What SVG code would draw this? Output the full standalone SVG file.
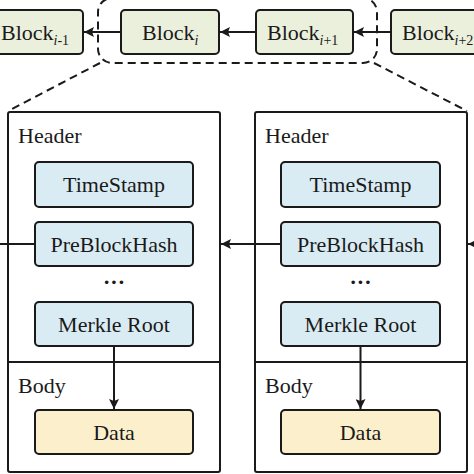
<svg xmlns="http://www.w3.org/2000/svg" width="474" height="474" viewBox="0 0 474 474">
<defs>
<marker id="ah" viewBox="0 0 10 10" refX="10" refY="5" markerWidth="5" markerHeight="5" orient="auto-start-reverse" markerUnits="strokeWidth">
<path d="M0,0 L10,5 L0,10 L2,5 Z" fill="#1a1a1a"/>
</marker>
</defs>
<rect width="474" height="474" fill="#ffffff"/>

<g id="zoom-outline" stroke="#1a1a1a" stroke-width="2" fill="none" stroke-dasharray="8 5">
<rect x="98" y="-2" width="279" height="65" rx="14"/>
<line x1="100" y1="63" x2="8" y2="111"/>
<line x1="374" y1="63" x2="467" y2="111"/>
</g>

<g id="block-im1">
<rect x="-6" y="10" width="89" height="44" rx="4" fill="#ebf0dc" stroke="#1a1a1a" stroke-width="2"/>
<text x="1" y="40" font-family="Times New Roman, Liberation Serif, serif" font-size="22" fill="#1a1a1a">Block<tspan font-size="14" font-style="italic" dy="5">i</tspan><tspan font-size="14">-1</tspan></text>
</g>
<g id="block-i">
<rect x="121" y="10" width="98" height="44" rx="4" fill="#ebf0dc" stroke="#1a1a1a" stroke-width="2"/>
<text x="142" y="40" font-family="Times New Roman, Liberation Serif, serif" font-size="22" fill="#1a1a1a">Block<tspan font-size="14" font-style="italic" dy="5">i</tspan></text>
</g>
<g id="block-ip1">
<rect x="256" y="10" width="97" height="44" rx="4" fill="#ebf0dc" stroke="#1a1a1a" stroke-width="2"/>
<text x="267" y="40" font-family="Times New Roman, Liberation Serif, serif" font-size="22" fill="#1a1a1a">Block<tspan font-size="14" font-style="italic" dy="5">i</tspan><tspan font-size="14">+1</tspan></text>
</g>
<g id="block-ip2">
<rect x="391" y="10" width="100" height="44" rx="4" fill="#ebf0dc" stroke="#1a1a1a" stroke-width="2"/>
<text x="402" y="40" font-family="Times New Roman, Liberation Serif, serif" font-size="22" fill="#1a1a1a">Block<tspan font-size="14" font-style="italic" dy="5">i</tspan><tspan font-size="14">+2</tspan></text>
</g>

<g id="left-block">
<rect x="8" y="112" width="212" height="360" rx="2" fill="#ffffff" stroke="#1a1a1a" stroke-width="2"/>
<line x1="8" y1="362" x2="220" y2="362" stroke="#1a1a1a" stroke-width="2"/>
<text x="18" y="143" font-family="Times New Roman, Liberation Serif, serif" font-size="22" fill="#1a1a1a">Header</text>
<text x="18" y="393" font-family="Times New Roman, Liberation Serif, serif" font-size="22" fill="#1a1a1a">Body</text>
<g id="l-timestamp"><rect x="35" y="162" width="158" height="45" rx="4" fill="#daecf3" stroke="#1a1a1a" stroke-width="2"/><text x="114" y="192" text-anchor="middle" font-family="Times New Roman, Liberation Serif, serif" font-size="22" fill="#1a1a1a">TimeStamp</text></g>
<g id="l-prehash"><rect x="35" y="222" width="158" height="44" rx="4" fill="#daecf3" stroke="#1a1a1a" stroke-width="2"/><text x="114" y="252" text-anchor="middle" font-family="Times New Roman, Liberation Serif, serif" font-size="22" fill="#1a1a1a">PreBlockHash</text></g>
<text x="114" y="289" text-anchor="middle" font-family="Times New Roman, Liberation Serif, serif" font-size="22" font-weight="bold" fill="#1a1a1a">···</text>
<g id="l-merkle"><rect x="35" y="302" width="158" height="44" rx="4" fill="#daecf3" stroke="#1a1a1a" stroke-width="2"/><text x="114" y="332" text-anchor="middle" font-family="Times New Roman, Liberation Serif, serif" font-size="22" fill="#1a1a1a">Merkle Root</text></g>
<g id="l-data"><rect x="35" y="410" width="158" height="44" rx="4" fill="#fcf0cc" stroke="#1a1a1a" stroke-width="2"/><text x="114" y="440" text-anchor="middle" font-family="Times New Roman, Liberation Serif, serif" font-size="22" fill="#1a1a1a">Data</text></g>
</g>

<g id="right-block">
<rect x="255" y="112" width="212" height="360" rx="2" fill="#ffffff" stroke="#1a1a1a" stroke-width="2"/>
<line x1="255" y1="362" x2="467" y2="362" stroke="#1a1a1a" stroke-width="2"/>
<text x="265" y="143" font-family="Times New Roman, Liberation Serif, serif" font-size="22" fill="#1a1a1a">Header</text>
<text x="265" y="393" font-family="Times New Roman, Liberation Serif, serif" font-size="22" fill="#1a1a1a">Body</text>
<g id="r-timestamp"><rect x="281" y="162" width="159" height="45" rx="4" fill="#daecf3" stroke="#1a1a1a" stroke-width="2"/><text x="360.5" y="192" text-anchor="middle" font-family="Times New Roman, Liberation Serif, serif" font-size="22" fill="#1a1a1a">TimeStamp</text></g>
<g id="r-prehash"><rect x="281" y="222" width="159" height="44" rx="4" fill="#daecf3" stroke="#1a1a1a" stroke-width="2"/><text x="360.5" y="252" text-anchor="middle" font-family="Times New Roman, Liberation Serif, serif" font-size="22" fill="#1a1a1a">PreBlockHash</text></g>
<text x="360.5" y="289" text-anchor="middle" font-family="Times New Roman, Liberation Serif, serif" font-size="22" font-weight="bold" fill="#1a1a1a">···</text>
<g id="r-merkle"><rect x="281" y="302" width="159" height="44" rx="4" fill="#daecf3" stroke="#1a1a1a" stroke-width="2"/><text x="360.5" y="332" text-anchor="middle" font-family="Times New Roman, Liberation Serif, serif" font-size="22" fill="#1a1a1a">Merkle Root</text></g>
<g id="r-data"><rect x="281" y="410" width="159" height="44" rx="4" fill="#fcf0cc" stroke="#1a1a1a" stroke-width="2"/><text x="360.5" y="440" text-anchor="middle" font-family="Times New Roman, Liberation Serif, serif" font-size="22" fill="#1a1a1a">Data</text></g>
</g>

<g id="connectors" stroke="#1a1a1a" stroke-width="2" fill="none">
<line x1="121" y1="32" x2="84" y2="32" marker-end="url(#ah)"/>
<line x1="256" y1="32" x2="220" y2="32" marker-end="url(#ah)"/>
<line x1="391" y1="32" x2="354" y2="32" marker-end="url(#ah)"/>
<line x1="35" y1="244" x2="-2" y2="244"/>
<line x1="281" y1="244" x2="221" y2="244" marker-end="url(#ah)"/>
<line x1="480" y1="244" x2="468" y2="244" marker-end="url(#ah)"/>
<line x1="114" y1="346" x2="114" y2="409" marker-end="url(#ah)"/>
<line x1="360.5" y1="346" x2="360.5" y2="409" marker-end="url(#ah)"/>
</g>
</svg>
